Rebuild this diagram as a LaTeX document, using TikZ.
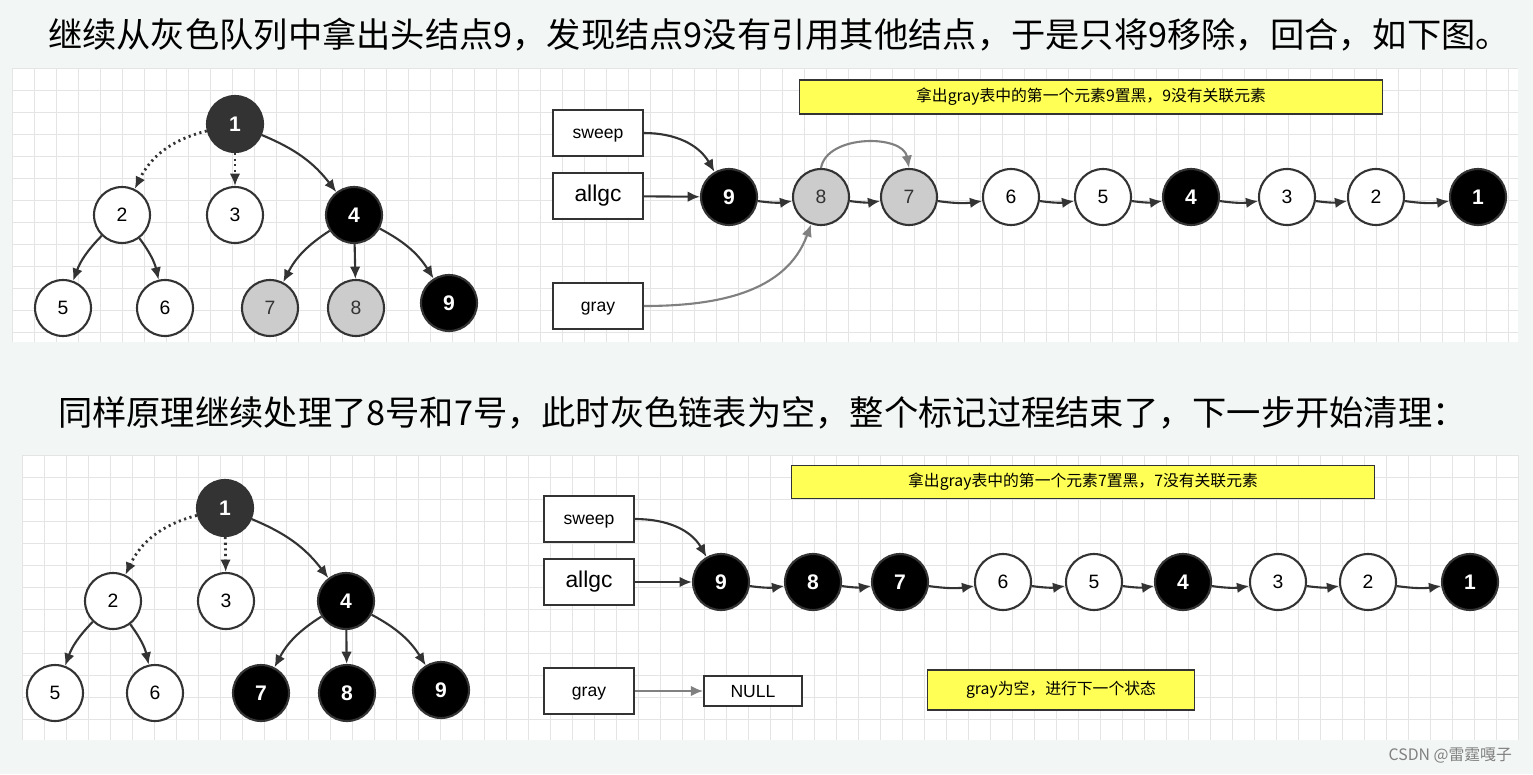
\documentclass[tikz,border=0pt]{standalone}
\usepackage{fontspec}
\setmainfont{Liberation Sans}
\newfontfamily\cjk{Noto Sans CJK SC}
\usetikzlibrary{arrows.meta}
\definecolor{bgc}{HTML}{F2F6F4}
\definecolor{gridc}{HTML}{E4E4E4}
\definecolor{dk}{HTML}{333333}
\definecolor{gr}{HTML}{CCCCCC}
\definecolor{yel}{HTML}{FFFF55}
\tikzset{
  nd/.style={circle, draw=dk, line width=1.2pt, minimum size=1.12cm, inner sep=0pt, font=\fontsize{11}{13}\selectfont},
  wn/.style={nd, fill=white},
  bn/.style={nd, fill=black, text=white, font=\fontsize{12}{14}\selectfont\bfseries},
  dn/.style={nd, fill=dk, text=white, font=\fontsize{12}{14}\selectfont\bfseries},
  gn/.style={nd, fill=gr, text=dk},
  box/.style={draw=dk, line width=1pt, fill=white, minimum width=1.8cm, minimum height=0.92cm, text height=1.6ex, text depth=0.5ex, font=\fontsize{10}{12}\selectfont},
  note/.style={draw=dk, line width=0.8pt, fill=yel, font=\cjk\fontsize{9}{11}\selectfont},
  ar/.style={-{Latex[length=7pt,width=6pt]}, line width=1.2pt, draw=dk},
  gar/.style={ar, draw=gray},
  dar/.style={ar, dotted, line width=1.6pt}
}
\begin{document}
\begin{tikzpicture}[x=0.02cm, y=-0.02cm]
\fill[bgc] (0,0) rectangle (1533,774);
% panels
\fill[white] (12,68) rectangle (1518,342);
\fill[white] (22,455) rectangle (1518,740);
\foreach \x in {12,34,...,1518} \draw[gridc] (\x,68) -- (\x,342);
\foreach \y in {68,90,...,342} \draw[gridc] (12,\y) -- (1518,\y);
\foreach \x in {22,44,...,1518} \draw[gridc] (\x,455) -- (\x,740);
\foreach \y in {455,477,...,740} \draw[gridc] (22,\y) -- (1518,\y);
% headlines
\node[font=\cjk\fontsize{19.5}{22}\selectfont, anchor=west] (h1) at (42,35) {继续从灰色队列中拿出头结点9，发现结点9没有引用其他结点，于是只将9移除，回合，如下图。};
\node[font=\cjk\fontsize{19.5}{22}\selectfont, anchor=west] (h2) at (52,413) {同样原理继续处理了8号和7号，此时灰色链表为空，整个标记过程结束了，下一步开始清理：};
% top tree
\node[dn] (a1) at (235,124) {1};
\node[wn] (a2) at (122,215) {2};
\node[wn] (a3) at (235,215) {3};
\node[bn] (a4) at (354,215) {4};
\node[wn] (a5) at (63,308) {5};
\node[wn] (a6) at (165,308) {6};
\node[gn] (a7) at (270,308) {7};
\node[gn] (a8) at (356,308) {8};
\node[bn] (a9) at (449,303) {9};
\draw[dar] (a1) to[bend right=25] (a2);
\draw[dar] (a1) -- (a3);
\draw[ar] (a1) to[bend left=15] (a4);
\draw[ar] (a2) to[bend right=12] (a5);
\draw[ar] (a2) to[bend left=12] (a6);
\draw[ar] (a4) to[bend right=15] (a7);
\draw[ar] (a4) -- (a8);
\draw[ar] (a4) to[bend left=15] (a9);
% top list
\node[note, minimum width=11.66cm, minimum height=0.68cm] (n1) at (1091,97) {拿出gray表中的第一个元素9置黑，9没有关联元素};
\node[box] (sw1) at (598,133) {sweep};
\node[box, font=\fontsize{13}{15}\selectfont] (al1) at (598,196) {allgc};
\node[box] (gy1) at (598,306) {gray};
\node[bn] (l19) at (729,197) {9};
\node[gn] (l18) at (821,197) {8};
\node[gn] (l17) at (909,197) {7};
\node[wn] (l16) at (1011,197) {6};
\node[wn] (l15) at (1103,197) {5};
\node[bn] (l14) at (1191,197) {4};
\node[wn] (l13) at (1287,197) {3};
\node[wn] (l12) at (1376,197) {2};
\node[bn] (l11) at (1478,197) {1};
\draw[ar] (sw1.east) to[out=0, in=120] (l19);
\draw[ar] (al1) -- (l19);
\draw[gar] (gy1.east) to[out=0, in=-110] (l18);
\draw[gar] (l18.north) to[out=80, in=100] (l17.north);
\foreach \p/\q in {l19/l18, l18/l17, l17/l16, l16/l15, l15/l14, l14/l13, l13/l12, l12/l11}
  \draw[ar] (\p) to[bend right=8] (\q);
% bottom tree
\node[dn] (b1) at (225,508) {1};
\node[wn] (b2) at (113,601) {2};
\node[wn] (b3) at (226,601) {3};
\node[bn] (b4) at (346,601) {4};
\node[wn] (b5) at (55,693) {5};
\node[wn] (b6) at (155,693) {6};
\node[bn] (b7) at (261,693) {7};
\node[bn] (b8) at (347,693) {8};
\node[bn] (b9) at (441,690) {9};
\draw[dar] (b1) to[bend right=25] (b2);
\draw[dar] (b1) -- (b3);
\draw[ar] (b1) to[bend left=15] (b4);
\draw[ar] (b2) to[bend right=12] (b5);
\draw[ar] (b2) to[bend left=12] (b6);
\draw[ar] (b4) to[bend right=15] (b7);
\draw[ar] (b4) -- (b8);
\draw[ar] (b4) to[bend left=15] (b9);
% bottom list
\node[note, minimum width=11.66cm, minimum height=0.66cm] (n2) at (1083,482) {拿出gray表中的第一个元素7置黑，7没有关联元素};
\node[note, minimum width=5.34cm, minimum height=0.8cm] (n3) at (1061,690) {gray为空，进行下一个状态};
\node[box] (sw2) at (589,519) {sweep};
\node[box, font=\fontsize{13}{15}\selectfont] (al2) at (589,582) {allgc};
\node[box] (gy2) at (589,691) {gray};
\node[draw=dk, line width=1pt, fill=white, minimum width=1.96cm, minimum height=0.6cm, text height=1.6ex, text depth=0.3ex, font=\fontsize{10}{12}\selectfont] (nul) at (753,691) {NULL};
\node[bn] (l29) at (721,582) {9};
\node[bn] (l28) at (813,582) {8};
\node[bn] (l27) at (900,582) {7};
\node[wn] (l26) at (1003,582) {6};
\node[wn] (l25) at (1094,582) {5};
\node[bn] (l24) at (1183,582) {4};
\node[wn] (l23) at (1278,582) {3};
\node[wn] (l22) at (1368,582) {2};
\node[bn] (l21) at (1470,582) {1};
\draw[ar] (sw2.east) to[out=0, in=120] (l29);
\draw[ar] (al2) -- (l29);
\draw[gar] (gy2) -- (nul);
\foreach \p/\q in {l29/l28, l28/l27, l27/l26, l26/l25, l25/l24, l24/l23, l23/l22, l22/l21}
  \draw[ar] (\p) to[bend right=8] (\q);
% watermark
\node[font=\cjk\fontsize{9}{11}\selectfont, text=gray, anchor=east] (wm) at (1518,756) {CSDN @雷霆嘎子};
\end{tikzpicture}
\end{document}
